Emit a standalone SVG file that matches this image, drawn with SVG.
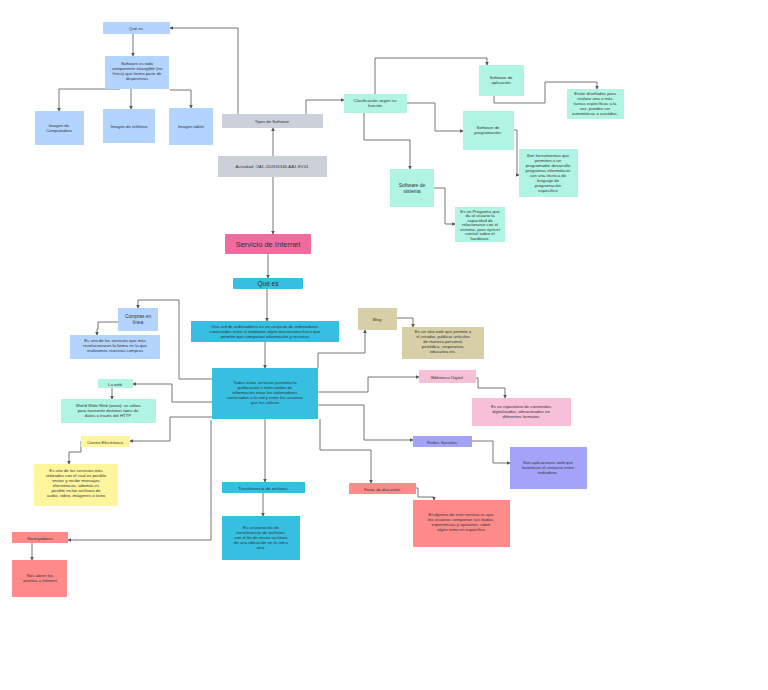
<svg xmlns="http://www.w3.org/2000/svg" width="768" height="690" viewBox="0 0 768 690">
<defs>
<marker id="a" viewBox="0 0 6 6" refX="5" refY="3" markerWidth="4" markerHeight="4" orient="auto"><path d="M0,0L6,3L0,6z" fill="#555"/></marker>
<style>
text{font-family:"Liberation Sans",Arial,sans-serif;font-size:4.3px;fill:#333;text-anchor:middle}
.c path{fill:none;stroke:#666;stroke-width:0.9;marker-end:url(#a)}
.b{fill:#b3d4ff}.g{fill:#ccd1d9}.m{fill:#b0f5e4}.p{fill:#f06ba0}.cy{fill:#36bfe0}
.y{fill:#fff59d}.r{fill:#ff8a8a}.k{fill:#d6cfa8}.pk{fill:#f7c0d8}.v{fill:#a3a3f7}
</style>
</defs>
<rect width="768" height="690" fill="#fff"/>
<g class="c">
<path d="M133,34V56"/>
<path d="M120,89H59V111"/>
<path d="M131,89V109"/>
<path d="M170,90H191V108"/>
<path d="M238,114V28H170"/>
<path d="M306,114V100H344"/>
<path d="M273,156V128"/>
<path d="M375,94V58H487V65"/>
<path d="M407,103H435V131H463"/>
<path d="M364,113V140H410V169"/>
<path d="M494,96V103H545V82H597V89"/>
<path d="M514,130H517V175H519"/>
<path d="M434,188H445V224H455"/>
<path d="M273,177V234"/>
<path d="M268,254V278"/>
<path d="M267,289V321"/>
<path d="M265,342V368"/>
<path d="M212,379H179V300H138V308"/>
<path d="M118,322H98V329H97V335"/>
<path d="M212,402H172V384H133"/>
<path d="M112,388V399"/>
<path d="M212,417H170V441H130"/>
<path d="M81,441V452H69V464"/>
<path d="M211,420V540H68"/>
<path d="M32,543V560"/>
<path d="M265,419V482"/>
<path d="M263,493V516"/>
<path d="M318,368V353H365V330"/>
<path d="M397,318H413V327"/>
<path d="M318,392H368V377H419"/>
<path d="M476,378H478V388H505V398"/>
<path d="M318,405H364V440H413"/>
<path d="M472,441H493V463H510"/>
<path d="M320,419V450H371V483"/>
<path d="M416,488H418V497H434V500"/>
</g>
<g id="n1"><rect class="b" x="103" y="22" width="67" height="12"/><text x="136" y="29.5">Qué es</text></g>
<g id="n2"><rect class="b" x="105" y="56" width="64" height="33"/><text x="137" y="65">Software es todo</text><text x="137" y="70">componente intangible (no</text><text x="137" y="75">físico) que forma parte de</text><text x="137" y="80">dispositivos</text></g>
<g id="n3"><rect class="b" x="35" y="111" width="49" height="34"/><text x="59" y="127">Imagen de</text><text x="59" y="132">Computadora</text></g>
<g id="n4"><rect class="b" x="103" y="109" width="52" height="34"/><text x="129" y="128">Imagen de teléfono</text></g>
<g id="n5"><rect class="b" x="169" y="108" width="44" height="37"/><text x="191" y="128">Imagen tablet</text></g>
<g id="n6"><rect class="g" x="222" y="114" width="101" height="14"/><text x="272" y="122.5">Tipos de Software</text></g>
<g id="n7"><rect class="g" x="218" y="156" width="109" height="21"/><text x="272" y="168">Actividad: OA1-220916346-AA1-EV01</text></g>
<g id="n8"><rect class="m" x="344" y="94" width="63" height="19"/><text x="375" y="102">Clasificación según su</text><text x="375" y="107">función</text></g>
<g id="n9"><rect class="m" x="479" y="65" width="45" height="31"/><text x="501" y="79">Software de</text><text x="501" y="84">aplicación</text></g>
<g id="n10"><rect class="m" x="567" y="89" width="57" height="30"/><text x="595" y="95">Están diseñados para</text><text x="595" y="100">realizar una o más</text><text x="595" y="105">tareas específicas a la</text><text x="595" y="110">vez, pueden ser</text><text x="595" y="115">automáticas o asistidas.</text></g>
<g id="n11"><rect class="m" x="463" y="111" width="51" height="39"/><text x="488" y="129">Software de</text><text x="488" y="134">programación.</text></g>
<g id="n12"><rect class="m" x="519" y="149" width="59" height="48"/><text x="548" y="157">Son herramientas que</text><text x="548" y="162">permiten a un</text><text x="548" y="167">programador desarrolle</text><text x="548" y="172">programas informáticos</text><text x="548" y="177">con una técnica de</text><text x="548" y="182">lenguaje de</text><text x="548" y="187">programación</text><text x="548" y="192">específico</text></g>
<g id="n13"><rect class="m" x="390" y="169" width="44" height="38"/><text x="412" y="187" style="font-size:5px">Software de</text><text x="412" y="193" style="font-size:5px">sistema</text></g>
<g id="n14"><rect class="m" x="455" y="207" width="50" height="35"/><text x="480" y="212.5">Es un Programa que</text><text x="480" y="217">da al usuario la</text><text x="480" y="221.5">capacidad de</text><text x="480" y="226">relacionarse con el</text><text x="480" y="230.5">sistema, para ejercer</text><text x="480" y="235">control sobre el</text><text x="480" y="239.5">hardware.</text></g>
<g id="n15"><rect class="p" x="225" y="234" width="86" height="20" rx="1"/><text x="268" y="246.5" style="font-size:7.5px">Servicio de Internet</text></g>
<g id="n16"><rect class="cy" x="233" y="278" width="70" height="11" rx="1"/><text x="268" y="286" style="font-size:6.5px">Qué es</text></g>
<g id="n17"><rect class="cy" x="191" y="321" width="148" height="21"/><text x="265" y="327.5">Una red de ordenadores es un conjunto de ordenadores</text><text x="265" y="332.5">conectados entre sí mediante algún mecanismo físico que</text><text x="265" y="337.5">permite que compartan información y recursos</text></g>
<g id="n18"><rect class="cy" x="212" y="368" width="106" height="51"/><text x="265" y="384">Todos estos servicios permiten la</text><text x="265" y="389">publicación e intercambio de</text><text x="265" y="394">información entre los ordenadores</text><text x="265" y="399">conectados a la red y entre los usuarios</text><text x="265" y="404">que los utilizan</text></g>
<g id="n19"><rect class="b" x="118" y="308" width="40" height="23"/><text x="138" y="318" style="font-size:4.8px">Compras en</text><text x="138" y="324" style="font-size:4.8px">línea</text></g>
<g id="n20"><rect class="b" x="70" y="335" width="90" height="24"/><text x="115" y="342">Es uno de los servicios que más</text><text x="115" y="347">revolucionaron la forma en la que</text><text x="115" y="352">realizamos nuestras compras</text></g>
<g id="n21"><rect class="m" x="98" y="379" width="35" height="9"/><text x="115" y="385.5">La web</text></g>
<g id="n22"><rect class="m" x="61" y="399" width="95" height="24"/><text x="108" y="407">World Wide Web (www), se utiliza</text><text x="108" y="412">para transmitir distintos tipos de</text><text x="108" y="417">datos a través del HTTP</text></g>
<g id="n23"><rect class="y" x="81" y="436" width="49" height="11"/><text x="105" y="443.5">Correo Electrónico</text></g>
<g id="n24"><rect class="y" x="34" y="464" width="84" height="42"/><text x="76" y="472">Es uno de los servicios más</text><text x="76" y="477">utilizados con el cual es posible</text><text x="76" y="482">enviar y recibir mensajes</text><text x="76" y="487">electrónicos, además es</text><text x="76" y="492">posible incluir archivos de</text><text x="76" y="497">audio, video, imágenes o texto</text></g>
<g id="n25"><rect class="r" x="12" y="532" width="56" height="11"/><text x="40" y="539.5">Navegadores</text></g>
<g id="n26"><rect class="r" x="12" y="560" width="55" height="37"/><text x="40" y="577">Nos abren las</text><text x="40" y="582">puertas a Internet</text></g>
<g id="n27"><rect class="cy" x="222" y="482" width="83" height="11"/><text x="263" y="489.5">Transferencia de archivos</text></g>
<g id="n28"><rect class="cy" x="222" y="516" width="78" height="44"/><text x="261" y="529">Es un protocolo de</text><text x="261" y="534">transferencia de archivos,</text><text x="261" y="539">con el fin de enviar archivos</text><text x="261" y="544">de una ubicación en la red a</text><text x="261" y="549">otra.</text></g>
<g id="n29"><rect class="k" x="358" y="308" width="39" height="22"/><text x="377" y="321">Blog</text></g>
<g id="n30"><rect class="k" x="402" y="327" width="82" height="32"/><text x="443" y="333">Es un sitio web que permite a</text><text x="443" y="338">el creador, publicar artículos</text><text x="443" y="343">de manera personal,</text><text x="443" y="348">periódica, corporativa,</text><text x="443" y="353">educativa etc.</text></g>
<g id="n31"><rect class="pk" x="419" y="370" width="57" height="13"/><text x="447" y="378.5">Biblioteca Digital</text></g>
<g id="n32"><rect class="pk" x="472" y="398" width="99" height="28"/><text x="521" y="408">Es un repositorio de contenidos</text><text x="521" y="413">digitalizados, almacenados en</text><text x="521" y="418">diferentes formatos</text></g>
<g id="n33"><rect class="v" x="413" y="436" width="59" height="11"/><text x="442" y="443.5">Redes Sociales</text></g>
<g id="n34"><rect class="v" x="510" y="447" width="77" height="42"/><text x="548" y="464">Son aplicaciones web que</text><text x="548" y="469">favorecen el contacto entre</text><text x="548" y="474">individuos.</text></g>
<g id="n35"><rect class="r" x="349" y="483" width="67" height="11"/><text x="382" y="490.5">Foros de discusión</text></g>
<g id="n36"><rect class="r" x="413" y="500" width="97" height="47"/><text x="461" y="516">El objetivo de este servicio es que</text><text x="461" y="521">los usuarios compartan sus dudas,</text><text x="461" y="526">experiencias y opiniones sobre</text><text x="461" y="531">algún tema en específico</text></g>
</svg>
